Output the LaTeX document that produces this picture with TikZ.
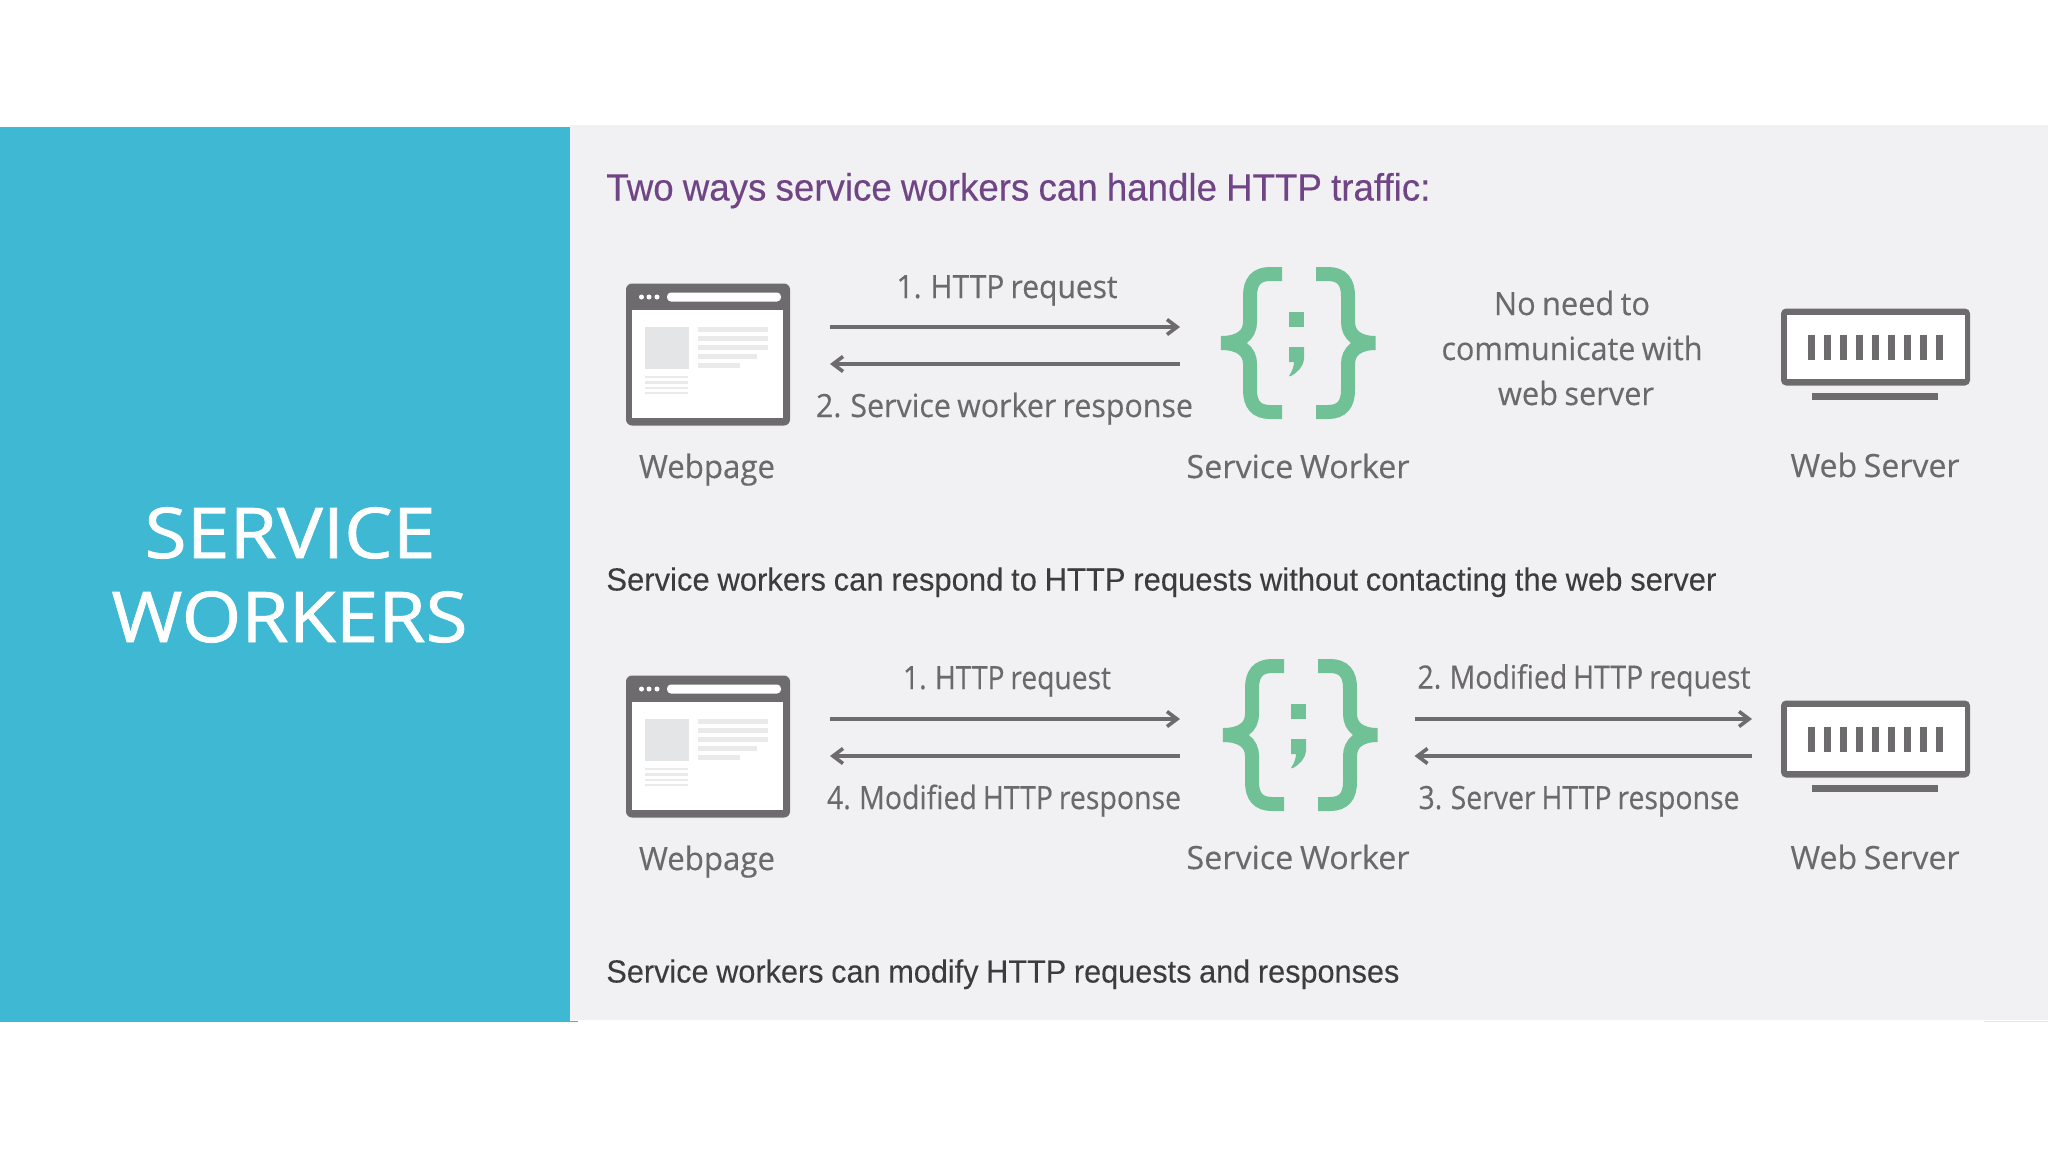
\documentclass[tikz,border=0pt]{standalone}
\usepackage{fontspec}
\usepackage{graphicx}
\usetikzlibrary{arrows.meta}
\setmainfont[WordSpace=0.8,FakeBold=0.35]{Open Sans}
\newfontfamily\bigfont[FakeBold=1.1]{Open Sans}
\newfontfamily\capfont[WordSpace=0.9,FakeBold=0.1]{Liberation Sans}
\newfontfamily\headfont[WordSpace=0.9,FakeBold=0.35]{Liberation Sans}
\definecolor{tealbar}{HTML}{3FB8D3}
\definecolor{panel}{HTML}{F1F1F3}
\definecolor{icongray}{HTML}{6D6B6E}
\definecolor{bracegreen}{HTML}{70C296}
\definecolor{labelgray}{HTML}{6B696C}
\definecolor{captext}{HTML}{3C3C3E}
\definecolor{titlepurple}{HTML}{6F4585}
\definecolor{lightA}{HTML}{E4E5E6}
\definecolor{lightB}{HTML}{EAEAEB}
\newcommand{\fitw}[2]{\resizebox{#1pt}{\height}{#2}}
\tikzset{
  x=0.5pt,y=-0.5pt,
  lbl/.style={anchor=base,inner sep=0pt,text=labelgray,font=\fontsize{16}{19}\selectfont},
  captionline/.style={anchor=base west,inner sep=0pt,text=captext,font=\capfont\fontsize{16}{19}\selectfont},
  flow/.style={draw=icongray,line width=2.3pt,-{Straight Barb[length=5pt,width=7.5pt,line width=1.8pt]}},
  webpage/.pic={
    \fill[icongray,rounded corners=3pt] (0,0) rectangle (164,142);
    \fill[white] (6,26) rectangle (157,134);
    \fill[white,rounded corners=2pt] (41,9) rectangle (155,18);
    \foreach \dx in {15.5,23,31}{\fill[white] (\dx,13.5) circle (2.5);}
    \fill[lightA] (19,43) rectangle (63,85);
    \foreach \yy/\xe in {43/142,52/142,61/142,70/131,79/114}{\fill[lightB] (72,\yy) rectangle (\xe,\yy+5);}
    \foreach \yy in {92,97.5,103,108}{\fill[lightB] (19,\yy) rectangle (62,\yy+2.5);}
  },
  bracecode/.pic={
    \draw[bracegreen,line width=7pt,line cap=butt]
      (63,7) -- (51,7) .. controls (37,7) and (31,15) .. (31,29) -- (31,55)
      .. controls (31,68) and (21,76) .. (2,76)
      .. controls (21,76) and (31,84) .. (31,97) -- (31,123)
      .. controls (31,137) and (37,145) .. (51,145) -- (63,145);
    \draw[bracegreen,line width=7pt,line cap=butt]
      (97,7) -- (109,7) .. controls (123,7) and (129,15) .. (129,29) -- (129,55)
      .. controls (129,68) and (139,76) .. (156.5,76)
      .. controls (139,76) and (129,84) .. (129,97) -- (129,123)
      .. controls (129,137) and (123,145) .. (109,145) -- (97,145);
    \fill[bracegreen] (70,45) rectangle (85,60);
    \fill[bracegreen] (70,80) -- (85,80) -- (85,92) .. controls (84,100) and (79,105) .. (72,109) -- (70,109) .. controls (74,103) and (75,98) .. (75,95) -- (70,95) -- cycle;
  },
  webserver/.pic={
    \fill[icongray,rounded corners=2.5pt] (0,0) rectangle (189,77);
    \fill[white] (6,6) rectangle (184,70);
    \fill[icongray] (31,84) rectangle (157,91);
    \foreach \i in {0,...,8}{\fill[icongray] (27+\i*16,26) rectangle (33.6+\i*16,51);}
  }
}
\begin{document}
\begin{tikzpicture}
\useasboundingbox (0,0) rectangle (2048,1152);
\fill[white] (0,0) rectangle (2048,1152);
\fill[panel] (570,125) rectangle (2048,1020);
\fill[tealbar] (0,127) rectangle (570,1022);
\fill[tealbar] (570,1020.5) rectangle (578,1022);
\fill[lightA] (1984,1020.5) rectangle (2048,1022);

\node[anchor=base,inner sep=0pt,text=white,font=\bigfont\fontsize{35}{42}\selectfont] (t1) at (290,558) {\fitw{145.5}{SERVICE}};
\node[anchor=base,inner sep=0pt,text=white,font=\bigfont\fontsize{35}{42}\selectfont] (t2) at (289.5,642) {\fitw{178}{WORKERS}};

\node[captionline,text=titlepurple,font=\headfont\fontsize{19}{23}\selectfont] (head) at (606,200.5) {\fitw{412}{Two ways service workers can handle HTTP traffic:}};
\node[captionline] (cap1) at (606,590.5) {\fitw{555}{Service workers can respond to HTTP requests without contacting the web server}};
\node[captionline] (cap2) at (606,982.5) {\fitw{396.5}{Service workers can modify HTTP requests and responses}};

% row 1
\pic (web1) at (626,283.5) {webpage};
\pic (sw1) at (1219,267) {bracecode};
\pic (srv1) at (1781,308.5) {webserver};
\node[lbl] (wl1) at (707,478) {\fitw{68}{Webpage}};
\node[lbl] (sl1) at (1298,478) {\fitw{111.5}{Service Worker}};
\node[lbl] (vl1) at (1875,477) {\fitw{84.5}{Web Server}};
\node[lbl] (r1a) at (1007,298) {\fitw{110.5}{1. HTTP request}};
\node[lbl] (r1b) at (1004.5,417) {\fitw{188.5}{2. Service worker response}};
\node[lbl] (n1) at (1572,315) {\fitw{78}{No need to}};
\node[lbl] (n2) at (1572,360) {\fitw{130.5}{communicate with}};
\node[lbl] (n3) at (1576,405) {\fitw{78}{web server}};
\coordinate (a1s) at (830,327);
\coordinate (a1e) at (1180,327);
\coordinate (b1s) at (1180,364);
\coordinate (b1e) at (830,364);
\draw[flow] (a1s) -- (a1e);
\draw[flow] (b1s) -- (b1e);

% row 2
\pic (web2) at (626,675.5) {webpage};
\pic (sw2) at (1221,659) {bracecode};
\pic (srv2) at (1781,700.5) {webserver};
\node[lbl] (wl2) at (707,870) {\fitw{68}{Webpage}};
\node[lbl] (sl2) at (1298,869) {\fitw{111.5}{Service Worker}};
\node[lbl] (vl2) at (1875,869) {\fitw{84.5}{Web Server}};
\node[lbl] (r2a) at (1007,689) {\fitw{104}{1. HTTP request}};
\node[lbl] (r2b) at (1004,809) {\fitw{177}{4. Modified HTTP response}};
\node[lbl] (r2c) at (1584,688.5) {\fitw{166.5}{2. Modified HTTP request}};
\node[lbl] (r2d) at (1579,809) {\fitw{160.5}{3. Server HTTP response}};
\coordinate (a2s) at (830,719);
\coordinate (a2e) at (1180,719);
\coordinate (b2s) at (1180,756);
\coordinate (b2e) at (830,756);
\coordinate (c2s) at (1414.5,719);
\coordinate (c2e) at (1752,719);
\coordinate (d2s) at (1752,756);
\coordinate (d2e) at (1414.5,756);
\draw[flow] (a2s) -- (a2e);
\draw[flow] (b2s) -- (b2e);
\draw[flow] (c2s) -- (c2e);
\draw[flow] (d2s) -- (d2e);
\end{tikzpicture}
\end{document}
